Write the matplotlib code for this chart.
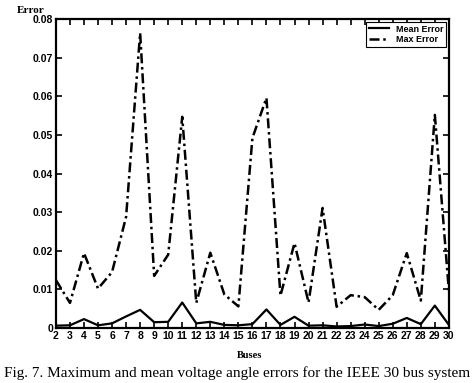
import matplotlib
matplotlib.use('Agg')
import matplotlib.pyplot as plt
import numpy as np

buses = list(range(2, 31))
mean_error = [0.0006, 0.0007, 0.0023, 0.0007, 0.0012, 0.003, 0.0047, 0.0015, 0.0016, 0.0066,
              0.0012, 0.0016, 0.0008, 0.0007, 0.001, 0.0048, 0.0008, 0.0029, 0.0006, 0.0007,
              0.0004, 0.0005, 0.0009, 0.0005, 0.0011, 0.0026, 0.001, 0.0058, 0.0008]
max_error = [0.0124, 0.0065, 0.0194, 0.0102, 0.0145, 0.0288, 0.0764, 0.0135, 0.019, 0.0547,
             0.0065, 0.0195, 0.0087, 0.0056, 0.0492, 0.0596, 0.0084, 0.022, 0.0066, 0.0311,
             0.0055, 0.0085, 0.008, 0.0047, 0.0085, 0.0194, 0.0071, 0.0552, 0.0096]

fig = plt.figure(figsize=(4.74, 3.83), dpi=100)
ax = fig.add_axes([0.118, 0.1436, 0.829, 0.8064])

ax.plot(buses, mean_error, color='black', lw=1.6, label='Mean Error')
ax.plot(buses, max_error, color='black', lw=1.8, linestyle=(0, (4, 1.5, 1, 1.5)), label='Max Error')

ax.set_xlim(2, 30)
ax.set_ylim(0, 0.08)
ax.set_xticks(buses)
ax.set_yticks([0, 0.01, 0.02, 0.03, 0.04, 0.05, 0.06, 0.07, 0.08])
ax.set_yticklabels(['0', '0.01', '0.02', '0.03', '0.04', '0.05', '0.06', '0.07', '0.08'])
ax.tick_params(direction='in', top=True, right=True, length=4, width=1.2, pad=2)
for lab in ax.get_xticklabels() + ax.get_yticklabels():
    lab.set_fontfamily('Liberation Sans')
    lab.set_fontweight('bold')
    lab.set_fontsize(7.5)
for s in ax.spines.values():
    s.set_linewidth(1.6)

leg = ax.legend(loc='upper right', prop={'family': 'Liberation Sans', 'weight': 'bold', 'size': 6.5},
                fancybox=False, edgecolor='black', framealpha=1, borderpad=0.3,
                handlelength=2.2, labelspacing=0.2, borderaxespad=0.3)
leg.get_frame().set_linewidth(0.8)

fig.text(0.036, 0.985, 'Error', family='Liberation Serif', weight='bold', fontsize=8, va='top', ha='left')
fig.text(0.527, 0.073, 'Buses', family='Liberation Serif', weight='bold', fontsize=7.5, ha='center', va='center')
fig.text(0.5, 0.025, 'Fig. 7. Maximum and mean voltage angle errors for the IEEE 30 bus system',
         family='Liberation Serif', fontsize=11, ha='center', va='center')

fig.savefig('out.png', dpi=100)
